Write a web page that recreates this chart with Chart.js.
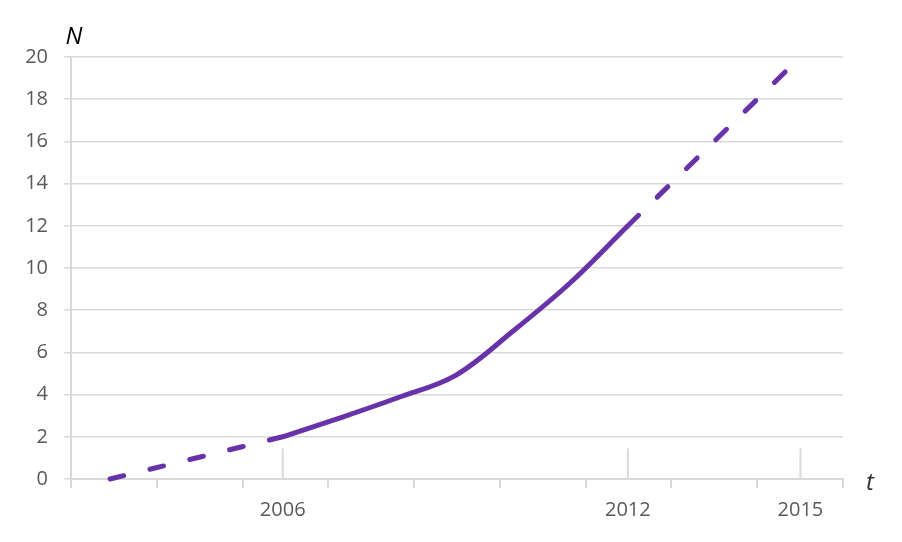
<!DOCTYPE html>
<html>
<head>
<meta charset="utf-8">
<script src="https://cdn.jsdelivr.net/npm/chart.js@4.4.1/dist/chart.umd.min.js"></script>
<style>
  html, body { margin: 0; padding: 0; background: #fff; }
  #wrap { width: 902px; height: 542px; }
</style>
</head>
<body>
<div id="wrap"><canvas id="chart" width="902" height="542"></canvas></div>
<script>
// early estimate (dashed), measured period (solid), forecast (dashed)
var earlyYears = [2003, 2006];
var earlyN = [0, 2];
var measuredYears = [2006, 2007, 2008, 2009, 2010, 2011, 2012];
var measuredN = [2, 2.9, 3.85, 4.9, 7.0, 9.3, 12];
var forecastYears = [2012, 2015];
var forecastN = [12, 20];

var labelYears = [2006, 2012, 2015];
var markerTop = 1.45;

var xMin = 2002.32, xMax = 2015.74;
var purple = '#6832a8';
var gridGray = '#d9d9d9';
var textGray = '#595959';

function pts(xs, ys) {
  return xs.map(function (x, i) { return { x: x, y: ys[i] }; });
}

var markerSets = labelYears.map(function (yr) {
  return {
    data: [{ x: yr, y: 0 }, { x: yr, y: markerTop }],
    borderColor: gridGray,
    borderWidth: 2,
    pointRadius: 0
  };
});

var axisLabels = {
  id: 'axisLabels',
  afterDraw: function (chart) {
    var ctx = chart.ctx, a = chart.chartArea;
    ctx.save();
    ctx.textAlign = 'center';
    ctx.textBaseline = 'middle';
    ctx.font = 'italic 24px "Open Sans"';
    ctx.fillStyle = '#000';
    ctx.fillText('N', a.left + 3, a.top - 20);
    ctx.fillStyle = '#333';
    ctx.fillText('t', a.right + 27, a.bottom + 4);
    ctx.restore();
  }
};

new Chart(document.getElementById('chart').getContext('2d'), {
  type: 'line',
  data: {
    datasets: [
      {
        data: pts(earlyYears, earlyN),
        borderColor: purple,
        borderWidth: 5,
        borderDash: [14, 27],
        borderCapStyle: 'round',
        pointRadius: 0,
        tension: 0
      },
      {
        data: pts(measuredYears, measuredN),
        borderColor: purple,
        borderWidth: 5,
        borderJoinStyle: 'round',
        tension: 0.35,
        pointRadius: 0
      },
      {
        data: pts(forecastYears, forecastN),
        borderColor: purple,
        borderWidth: 5,
        borderDash: [15, 26],
        borderCapStyle: 'round',
        pointRadius: 0,
        tension: 0
      }
    ].concat(markerSets)
  },
  options: {
    responsive: false,
    animation: false,
    clip: false,
    layout: { padding: { top: 57, right: 59, left: 0, bottom: 0 } },
    plugins: {
      legend: { display: false },
      tooltip: { enabled: false }
    },
    scales: {
      x: {
        type: 'linear',
        min: xMin,
        max: xMax,
        afterBuildTicks: function (scale) {
          var step = (xMax - xMin) / 9;
          var vals = [];
          for (var i = 0; i <= 9; i++) vals.push(xMin + i * step);
          vals = vals.concat(labelYears).sort(function (a, b) { return a - b; });
          scale.ticks = vals.map(function (v) { return { value: v }; });
        },
        afterFit: function (scale) { scale.height = 63; },
        ticks: {
          autoSkip: false,
          maxRotation: 0,
          padding: 10,
          color: textGray,
          font: { family: '"Open Sans"', size: 20 },
          callback: function (v) { return labelYears.indexOf(v) >= 0 ? String(v) : ''; }
        },
        grid: {
          drawOnChartArea: false,
          tickLength: 9,
          lineWidth: 2,
          tickColor: function (c) {
            return c.tick && labelYears.indexOf(c.tick.value) >= 0 ? 'rgba(0,0,0,0)' : gridGray;
          }
        },
        border: { color: gridGray, width: 2 }
      },
      y: {
        min: 0,
        max: 20,
        afterFit: function (scale) { scale.width = 71; },
        ticks: {
          stepSize: 2,
          padding: 16,
          color: textGray,
          font: { family: '"Open Sans"', size: 20 }
        },
        grid: {
          color: gridGray,
          lineWidth: 1.5,
          tickLength: 7
        },
        border: { color: gridGray, width: 2 }
      }
    }
  },
  plugins: [axisLabels]
});
</script>
</body>
</html>
